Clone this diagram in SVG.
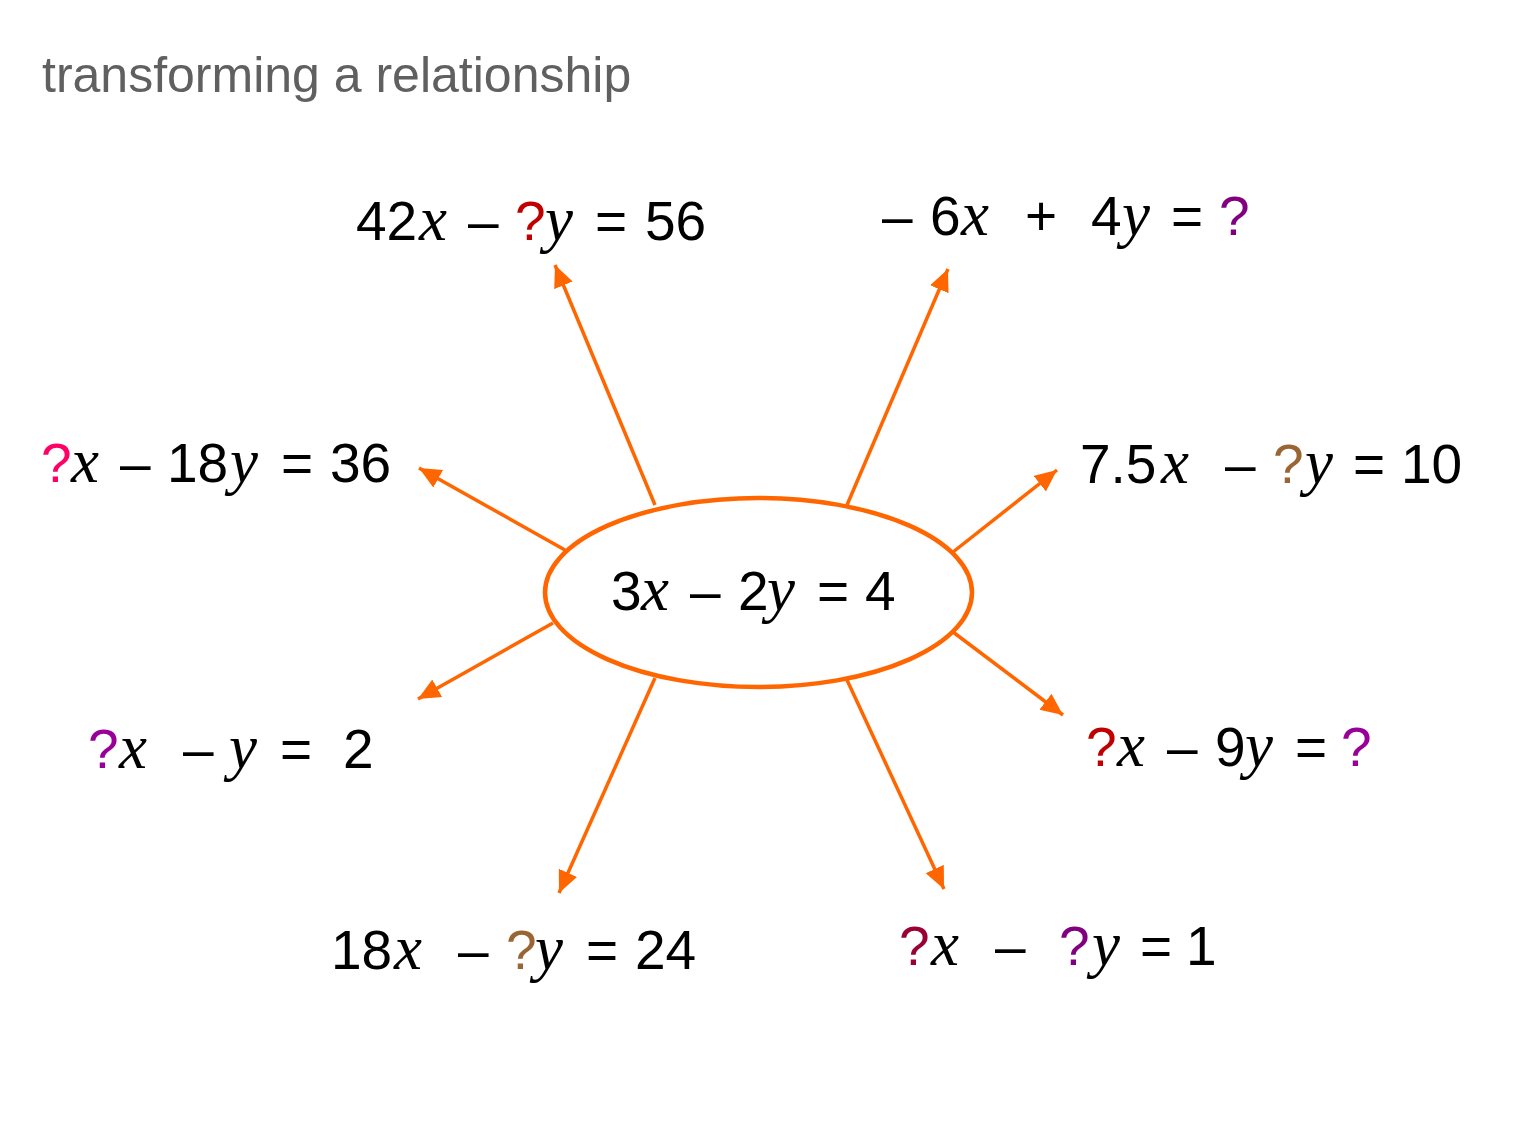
<svg xmlns="http://www.w3.org/2000/svg" width="1515" height="1125" viewBox="0 0 1515 1125">
<style>
text{font-family:"Liberation Sans",Arial,sans-serif;font-size:55px;fill:#000}
.v{font-family:"Liberation Serif","Times New Roman",serif;font-style:italic;font-size:63px}
.title{font-size:50px;fill:#606060}
.red{fill:#C00000}.pur{fill:#800080}.mag{fill:#990099}.pink{fill:#FF0066}.brn{fill:#996633}.dred{fill:#990033}
.arr{stroke:#FF6600;stroke-width:3.5;fill:none;marker-end:url(#ah)}
</style>
<defs>
<marker id="ah" markerUnits="userSpaceOnUse" markerWidth="24" markerHeight="22" refX="22" refY="10" orient="auto">
<path d="M0,0 L22,10 L0,20 z" fill="#FF6600"/>
</marker>
</defs>
<rect width="1515" height="1125" fill="#fff"/>
<text class="title" x="42" y="92">transforming a relationship</text>
<g id="connectors">
<line class="arr" x1="655" y1="505" x2="555" y2="265"/>
<line class="arr" x1="847" y1="505" x2="948" y2="269"/>
<line class="arr" x1="565" y1="550" x2="419" y2="468"/>
<line class="arr" x1="953" y1="552" x2="1057" y2="470"/>
<line class="arr" x1="553" y1="623" x2="418" y2="699"/>
<line class="arr" x1="953" y1="632" x2="1063" y2="715"/>
<line class="arr" x1="655" y1="678" x2="559" y2="893"/>
<line class="arr" x1="847" y1="680" x2="944" y2="889"/>
</g>
<g id="center">
<ellipse cx="758.5" cy="592.5" rx="213.5" ry="94.5" fill="#fff" stroke="#FF6600" stroke-width="4.5"/>
<text y="610"><tspan x="611">3</tspan><tspan class="v" x="641">x</tspan><tspan x="690">–</tspan><tspan x="738">2</tspan><tspan class="v" x="767">y</tspan><tspan x="817">=</tspan><tspan x="865">4</tspan></text>
</g>
<g id="n1">
<text y="240"><tspan x="356">42</tspan><tspan class="v" x="419">x</tspan><tspan x="468">–</tspan><tspan class="red" x="515">?</tspan><tspan class="v" x="545">y</tspan><tspan x="595">=</tspan><tspan x="645">56</tspan></text>
</g>
<g id="n2">
<text y="235"><tspan x="882">–</tspan><tspan x="930">6</tspan><tspan class="v" x="961">x</tspan><tspan x="1025">+</tspan><tspan x="1091">4</tspan><tspan class="v" x="1122">y</tspan><tspan x="1171">=</tspan><tspan class="pur" x="1219">?</tspan></text>
</g>
<g id="n3">
<text y="482"><tspan class="pink" x="41">?</tspan><tspan class="v" x="71">x</tspan><tspan x="120">–</tspan><tspan x="167">18</tspan><tspan class="v" x="230">y</tspan><tspan x="281">=</tspan><tspan x="330">36</tspan></text>
</g>
<g id="n4">
<text y="483"><tspan x="1080">7.5</tspan><tspan class="v" x="1161">x</tspan><tspan x="1225">–</tspan><tspan class="brn" x="1273">?</tspan><tspan class="v" x="1305">y</tspan><tspan x="1353">=</tspan><tspan x="1401">10</tspan></text>
</g>
<g id="n5">
<text y="768"><tspan class="mag" x="88">?</tspan><tspan class="v" x="119">x</tspan><tspan x="183">–</tspan><tspan class="v" x="229">y</tspan><tspan x="280">=</tspan><tspan x="343">2</tspan></text>
</g>
<g id="n6">
<text y="766"><tspan class="red" x="1086">?</tspan><tspan class="v" x="1117">x</tspan><tspan x="1167">–</tspan><tspan x="1215">9</tspan><tspan class="v" x="1245">y</tspan><tspan x="1295">=</tspan><tspan class="mag" x="1341">?</tspan></text>
</g>
<g id="n7">
<text y="969"><tspan x="331">18</tspan><tspan class="v" x="394">x</tspan><tspan x="458">–</tspan><tspan class="brn" x="506">?</tspan><tspan class="v" x="535">y</tspan><tspan x="586">=</tspan><tspan x="635">24</tspan></text>
</g>
<g id="n8">
<text y="965"><tspan class="dred" x="899">?</tspan><tspan class="v" x="931">x</tspan><tspan x="995">–</tspan><tspan class="pur" x="1059">?</tspan><tspan class="v" x="1092">y</tspan><tspan x="1140">=</tspan><tspan x="1186">1</tspan></text>
</g>
</svg>
